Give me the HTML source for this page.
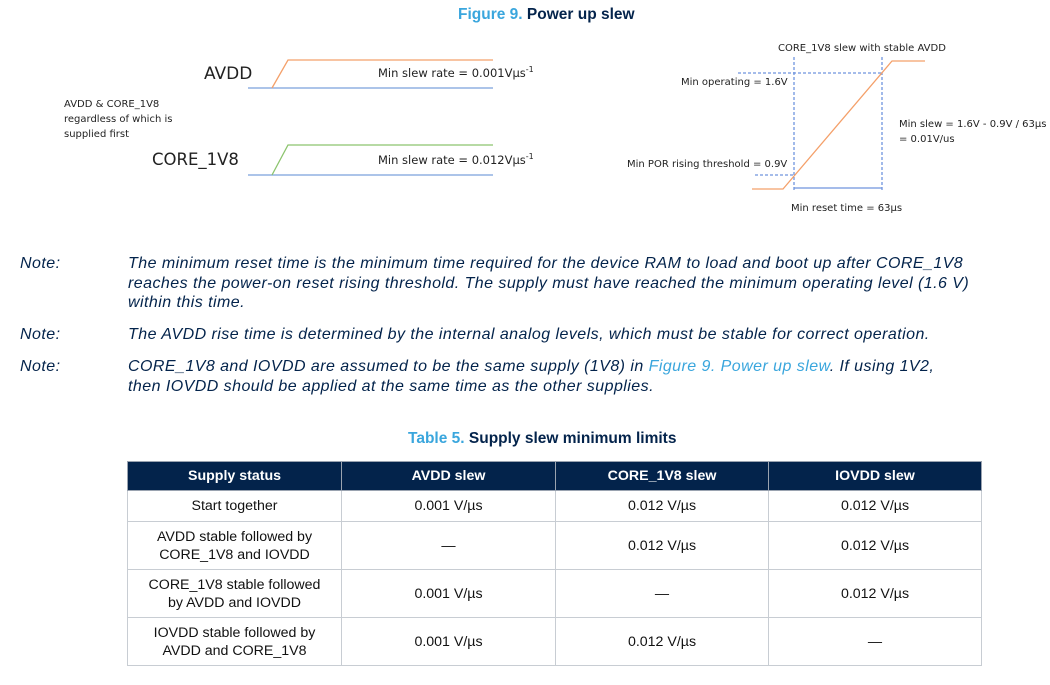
<!DOCTYPE html>
<html><head><meta charset="utf-8"><style>
body{margin:0;width:1050px;height:685px;background:#fff;position:relative;overflow:hidden;font-family:"Liberation Sans",Arial,sans-serif;color:#03234b}
.a{position:absolute;white-space:nowrap}
.n{font-style:italic;font-size:16px;line-height:19.6px;letter-spacing:0.45px}
.c{font-family:"DejaVu Sans","Liberation Sans",sans-serif;color:#222}
table{position:absolute;left:127px;top:461px;border-collapse:collapse;font-size:14.2px;color:#111}
td,th{border:1px solid #c8cdd3;text-align:center;padding:0;line-height:18px}
th{background:#03234b;color:#fff;border-color:#9aa3b0;height:28px;font-weight:bold}
</style></head><body>
<div class="a" style="left:458px;top:6px;font-size:15.5px;font-weight:bold"><span style="color:#3aa6dd">Figure 9.</span> Power up slew</div>

<svg class="a" style="left:0;top:0" width="1050" height="230">
<g fill="none" stroke-width="1.3">
<line x1="248" y1="88" x2="493" y2="88" stroke="#7aa0dc"/>
<polyline points="272,88 288,60 493,60" stroke="#f4a06a"/>
<line x1="248" y1="175" x2="493" y2="175" stroke="#7aa0dc"/>
<polyline points="272,175 288,145 493,145" stroke="#8cc46e"/>
<line x1="794" y1="57" x2="794" y2="191" stroke="#6f95de" stroke-dasharray="3,2"/>
<line x1="882" y1="57" x2="882" y2="191" stroke="#6f95de" stroke-dasharray="3,2"/>
<line x1="738" y1="73" x2="882" y2="73" stroke="#6f95de" stroke-dasharray="3,2"/>
<line x1="755" y1="175" x2="794" y2="175" stroke="#6f95de" stroke-dasharray="3,2"/>
<line x1="794" y1="188" x2="882" y2="188" stroke="#6f95de"/>
<polyline points="752,189 783,189 892,61 925,61" stroke="#f4a06a"/>
</g>
</svg>
<div class="a c" style="left:204px;top:64px;font-size:17px">AVDD</div>
<div class="a c" style="left:152px;top:150px;font-size:16.5px">CORE_1V8</div>
<div class="a c" style="left:378px;top:65px;font-size:11.5px">Min slew rate = 0.001Vµs<sup style="font-size:8px">-1</sup></div>
<div class="a c" style="left:378px;top:152px;font-size:11.5px">Min slew rate = 0.012Vµs<sup style="font-size:8px">-1</sup></div>
<div class="a c" style="left:64px;top:97px;font-size:10px;line-height:15px">AVDD &amp; CORE_1V8<br>regardless of which is<br>supplied first</div>
<div class="a c" style="left:778px;top:43px;font-size:10px">CORE_1V8 slew with stable AVDD</div>
<div class="a c" style="left:681px;top:77px;font-size:10px">Min operating = 1.6V</div>
<div class="a c" style="left:627px;top:159px;font-size:10px">Min POR rising threshold = 0.9V</div>
<div class="a c" style="left:899px;top:117px;font-size:10px;line-height:15px">Min slew = 1.6V - 0.9V / 63µs<br>= 0.01V/us</div>
<div class="a c" style="left:791px;top:203px;font-size:10px">Min reset time = 63µs</div>

<div class="a n" style="left:20px;top:254px">Note:</div>
<div class="a n" style="left:128px;top:254px">The minimum reset time is the minimum time required for the device RAM to load and boot up after CORE_1V8<br>reaches the power-on reset rising threshold. The supply must have reached the minimum operating level (1.6 V)<br>within this time.</div>
<div class="a n" style="left:20px;top:325px">Note:</div>
<div class="a n" style="left:128px;top:325px">The AVDD rise time is determined by the internal analog levels, which must be stable for correct operation.</div>
<div class="a n" style="left:20px;top:357px">Note:</div>
<div class="a n" style="left:128px;top:357px">CORE_1V8 and IOVDD are assumed to be the same supply (1V8) in <span style="color:#3aa6dd">Figure 9. Power up slew</span>. If using 1V2,<br>then IOVDD should be applied at the same time as the other supplies.</div>

<div class="a" style="left:408px;top:430px;font-size:15.5px;font-weight:bold"><span style="color:#3aa6dd">Table 5.</span> Supply slew minimum limits</div>
<table>
<tr><th style="width:213px">Supply status</th><th style="width:213px">AVDD slew</th><th style="width:212px">CORE_1V8 slew</th><th style="width:212px">IOVDD slew</th></tr>
<tr style="height:31px"><td>Start together</td><td>0.001 V/µs</td><td>0.012 V/µs</td><td>0.012 V/µs</td></tr>
<tr style="height:48px"><td>AVDD stable followed by<br>CORE_1V8 and IOVDD</td><td>—</td><td>0.012 V/µs</td><td>0.012 V/µs</td></tr>
<tr style="height:48px"><td>CORE_1V8 stable followed<br>by AVDD and IOVDD</td><td>0.001 V/µs</td><td>—</td><td>0.012 V/µs</td></tr>
<tr style="height:48px"><td>IOVDD stable followed by<br>AVDD and CORE_1V8</td><td>0.001 V/µs</td><td>0.012 V/µs</td><td>—</td></tr>
</table>
</body></html>
